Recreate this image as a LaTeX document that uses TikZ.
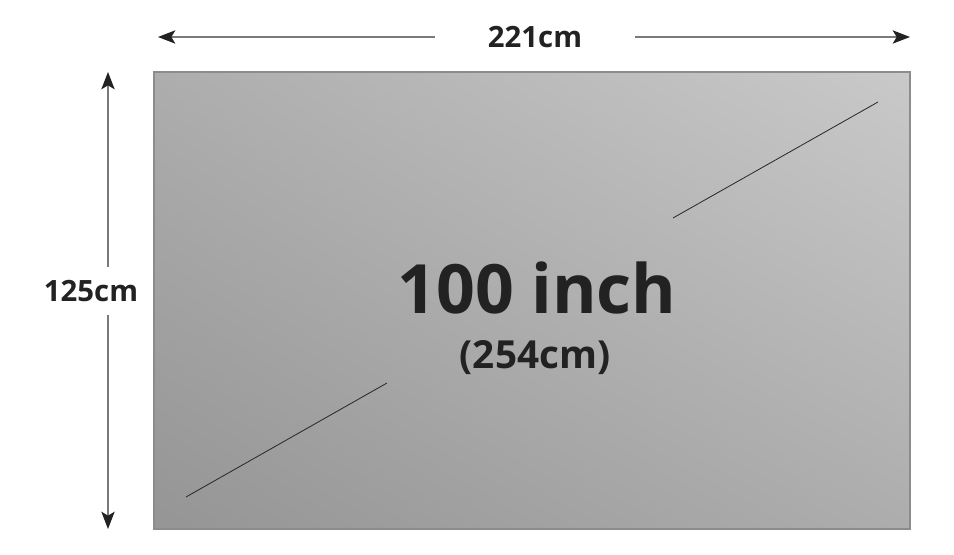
\documentclass[tikz,border=0pt]{standalone}
\usepackage{fontspec}
\setmainfont{Open Sans}
\usetikzlibrary{arrows.meta, shadings}
\definecolor{screenlo}{HTML}{959595}
\definecolor{screenhi}{HTML}{C9C9C9}
\definecolor{screenmid}{HTML}{ADADAD}
\definecolor{dimgray}{HTML}{7A7A7A}
\definecolor{inktext}{HTML}{222222}
\tikzset{
  dimline/.style={draw=dimgray, line width=1pt, {Stealth[inktext,length=13pt,width=10pt,inset=3pt]}-{Stealth[inktext,length=13pt,width=10pt,inset=3pt]}},
  dimlabel/.style={font=\fontsize{22}{24}\selectfont\bfseries, text=inktext, fill=white, inner sep=6pt},
  diag/.style={draw=black!85, line width=0.6pt}
}
\begin{document}
\begin{tikzpicture}[x=0.75pt, y=-0.75pt]
\useasboundingbox (0,0) rectangle (954,555);

% Screen
\shade[lower left=screenlo, upper right=screenhi, upper left=screenmid, lower right=screenmid]
  (154,72) rectangle (910,529);
\draw[draw=black!45, line width=0.8pt] (154,72) rectangle (910,529);

% Width
\coordinate (wl) at (158,37);
\coordinate (wr) at (910,37);
\draw[dimline] (wl) -- (wr);
\node[dimlabel, inner xsep=40pt] (width) at (535,37) {221cm};

% Height
\coordinate (ht) at (108,72);
\coordinate (hb) at (108,529);
\draw[dimline] (ht) -- (hb);
\node[dimlabel, inner ysep=10pt] (height) at (91,291) {125cm};

% Diagonal
\coordinate (d1) at (186,497);
\coordinate (d2) at (387,383);
\coordinate (d3) at (673,218);
\coordinate (d4) at (878,102);
\draw[diag] (d1) -- (d2);
\draw[diag] (d3) -- (d4);

% Size
\node[text=inktext, font=\fontsize{51}{56}\selectfont\bfseries] (size) at (537,288) {100 inch};
\node[text=inktext, font=\fontsize{29}{32}\selectfont\bfseries] (sizecm) at (535,358) {(254cm)};

\end{tikzpicture}
\end{document}
